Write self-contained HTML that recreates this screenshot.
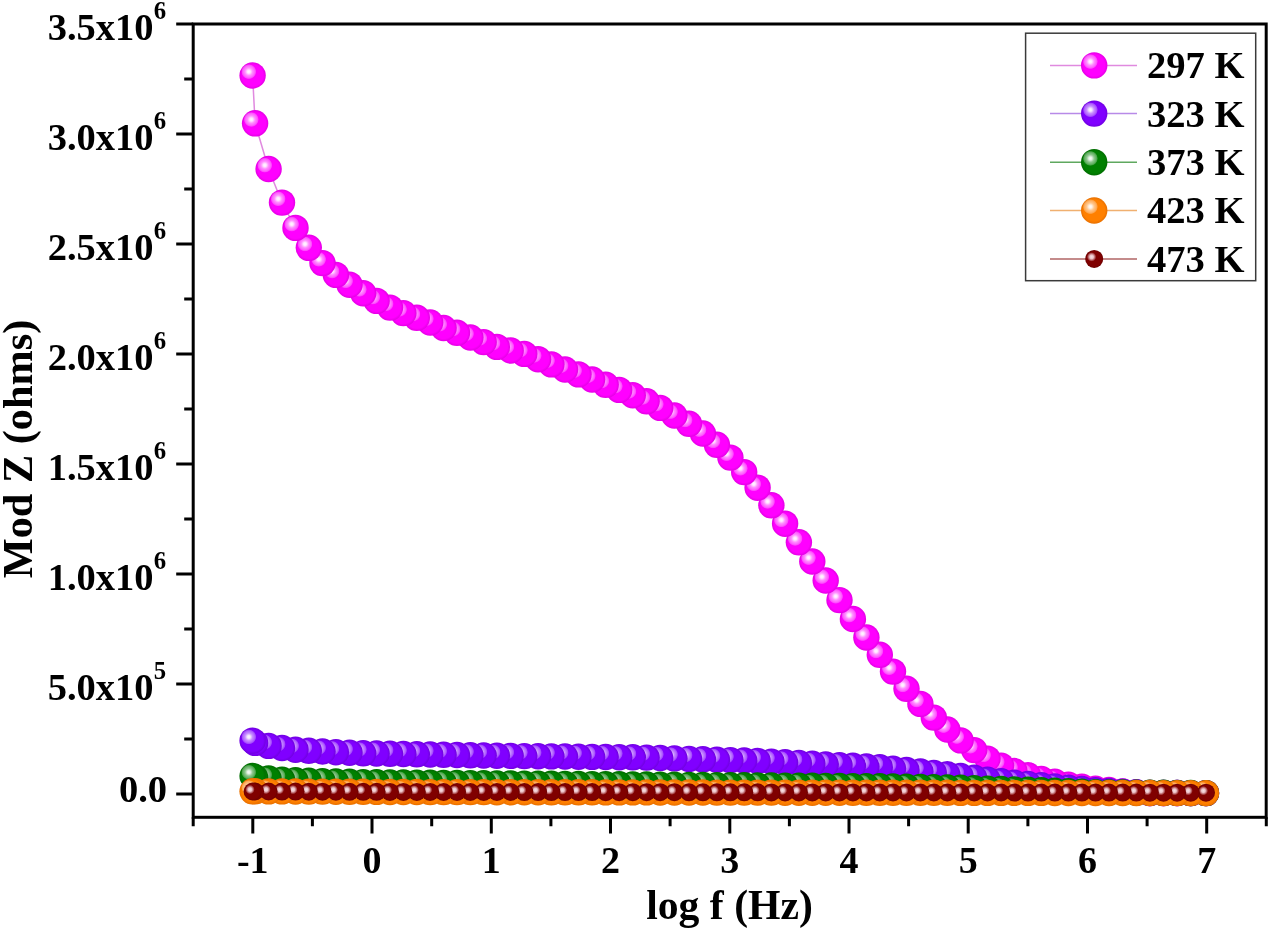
<!DOCTYPE html>
<html><head><meta charset="utf-8"><title>Mod Z vs log f</title>
<style>html,body{margin:0;padding:0;background:#fff}body{width:1269px;height:930px;overflow:hidden}</style></head>
<body>
<svg width="1269" height="930" viewBox="0 0 1269 930" style="display:block;font-family:'Liberation Serif',serif;font-weight:bold">
<defs>
<radialGradient id="hl" cx="0.5" cy="0.5" r="0.5"><stop offset="0" stop-color="#fff" stop-opacity="0.97"/><stop offset="0.2" stop-color="#fff" stop-opacity="0.9"/><stop offset="0.5" stop-color="#fff" stop-opacity="0.55"/><stop offset="0.75" stop-color="#fff" stop-opacity="0.4"/><stop offset="0.88" stop-color="#fff" stop-opacity="0.28"/><stop offset="1" stop-color="#fff" stop-opacity="0"/></radialGradient>
<radialGradient id="hls" cx="0.5" cy="0.5" r="0.5"><stop offset="0" stop-color="#fff0f3" stop-opacity="0.95"/><stop offset="0.4" stop-color="#ffe6ec" stop-opacity="0.85"/><stop offset="0.7" stop-color="#ffe0e8" stop-opacity="0.45"/><stop offset="1" stop-color="#ffe0e8" stop-opacity="0"/></radialGradient>
<radialGradient id="gm" cx="0.5" cy="0.5" r="0.5"><stop offset="0.8" stop-color="#FF00FF"/><stop offset="1" stop-color="#E400E4"/></radialGradient>
<g id="bm"><circle r="13.2" fill="url(#gm)"/><circle cx="-3.80" cy="-3.80" r="7.60" fill="url(#hl)"/></g>
<radialGradient id="gp" cx="0.5" cy="0.5" r="0.5"><stop offset="0.8" stop-color="#8000FF"/><stop offset="1" stop-color="#7000E0"/></radialGradient>
<g id="bp"><circle r="13.2" fill="url(#gp)"/><circle cx="-3.80" cy="-3.80" r="7.60" fill="url(#hl)"/></g>
<radialGradient id="gg" cx="0.5" cy="0.5" r="0.5"><stop offset="0.8" stop-color="#008000"/><stop offset="1" stop-color="#006C00"/></radialGradient>
<g id="bg"><circle r="13.2" fill="url(#gg)"/><circle cx="-3.80" cy="-3.80" r="7.60" fill="url(#hl)"/></g>
<radialGradient id="go" cx="0.5" cy="0.5" r="0.5"><stop offset="0.8" stop-color="#FF8000"/><stop offset="1" stop-color="#E87000"/></radialGradient>
<g id="bo"><circle r="13.2" fill="url(#go)"/><circle cx="-3.80" cy="-3.80" r="7.60" fill="url(#hl)"/></g>
<radialGradient id="gr" cx="0.5" cy="0.5" r="0.5"><stop offset="0.8" stop-color="#800000"/><stop offset="1" stop-color="#6C0000"/></radialGradient>
<g id="br"><circle r="9.0" fill="url(#gr)"/><circle cx="-2.59" cy="-2.00" r="4.70" fill="url(#hls)"/></g>
</defs>
<rect width="1269" height="930" fill="#fff"/>
<path d="M252.6 75.5 L255.1 123.3 L268.6 169.0 L282.0 202.6 L295.5 227.9 L308.8 247.8 L322.5 263.1 L335.9 274.9 L349.5 284.7 L363.2 293.2 L376.6 300.9 L390.0 307.6 L403.4 313.1 L416.8 317.8 L430.2 322.5 L443.6 328.0 L457.0 332.8 L470.4 337.5 L483.7 342.1 L496.9 346.9 L510.7 350.5 L524.3 353.9 L538.1 359.2 L551.4 364.4 L565.0 369.5 L578.5 374.4 L592.1 379.5 L605.7 384.8 L619.2 389.9 L632.8 395.2 L646.6 401.3 L660.2 407.9 L674.4 415.5 L689.0 423.8 L702.9 433.5 L716.9 444.8 L730.4 457.6 L744.2 472.1 L757.6 487.7 L771.4 505.3 L785.1 523.7 L798.9 542.3 L812.3 561.5 L825.7 580.5 L839.5 600.1 L852.9 619.0 L866.4 637.5 L879.8 654.8 L893.0 671.6 L906.5 688.8 L920.4 703.9 L933.8 717.6 L947.3 729.5 L960.6 740.4 L974.2 750.1 L987.5 758.7 L1001.1 765.6 L1014.4 771.0 L1028.0 775.3 L1041.3 778.9 L1054.8 781.7 L1068.4 784.6 L1081.9 786.7 L1095.5 788.7 L1109.0 790.0 L1122.7 791.4 L1136.3 792.4 L1149.9 793.0 L1163.5 793.0 L1177.1 793.0 L1190.7 793.1 L1206.0 793.1" fill="none" stroke="#E08ADF" stroke-width="1.5"/>
<g><use href="#bm" x="1206.0" y="793.1"/><use href="#bm" x="1190.7" y="793.1"/><use href="#bm" x="1177.1" y="793.0"/><use href="#bm" x="1163.5" y="793.0"/><use href="#bm" x="1149.9" y="793.0"/><use href="#bm" x="1136.3" y="792.4"/><use href="#bm" x="1122.7" y="791.4"/><use href="#bm" x="1109.0" y="790.0"/><use href="#bm" x="1095.5" y="788.7"/><use href="#bm" x="1081.9" y="786.7"/><use href="#bm" x="1068.4" y="784.6"/><use href="#bm" x="1054.8" y="781.7"/><use href="#bm" x="1041.3" y="778.9"/><use href="#bm" x="1028.0" y="775.3"/><use href="#bm" x="1014.4" y="771.0"/><use href="#bm" x="1001.1" y="765.6"/><use href="#bm" x="987.5" y="758.7"/><use href="#bm" x="974.2" y="750.1"/><use href="#bm" x="960.6" y="740.4"/><use href="#bm" x="947.3" y="729.5"/><use href="#bm" x="933.8" y="717.6"/><use href="#bm" x="920.4" y="703.9"/><use href="#bm" x="906.5" y="688.8"/><use href="#bm" x="893.0" y="671.6"/><use href="#bm" x="879.8" y="654.8"/><use href="#bm" x="866.4" y="637.5"/><use href="#bm" x="852.9" y="619.0"/><use href="#bm" x="839.5" y="600.1"/><use href="#bm" x="825.7" y="580.5"/><use href="#bm" x="812.3" y="561.5"/><use href="#bm" x="798.9" y="542.3"/><use href="#bm" x="785.1" y="523.7"/><use href="#bm" x="771.4" y="505.3"/><use href="#bm" x="757.6" y="487.7"/><use href="#bm" x="744.2" y="472.1"/><use href="#bm" x="730.4" y="457.6"/><use href="#bm" x="716.9" y="444.8"/><use href="#bm" x="702.9" y="433.5"/><use href="#bm" x="689.0" y="423.8"/><use href="#bm" x="674.4" y="415.5"/><use href="#bm" x="660.2" y="407.9"/><use href="#bm" x="646.6" y="401.3"/><use href="#bm" x="632.8" y="395.2"/><use href="#bm" x="619.2" y="389.9"/><use href="#bm" x="605.7" y="384.8"/><use href="#bm" x="592.1" y="379.5"/><use href="#bm" x="578.5" y="374.4"/><use href="#bm" x="565.0" y="369.5"/><use href="#bm" x="551.4" y="364.4"/><use href="#bm" x="538.1" y="359.2"/><use href="#bm" x="524.3" y="353.9"/><use href="#bm" x="510.7" y="350.5"/><use href="#bm" x="496.9" y="346.9"/><use href="#bm" x="483.7" y="342.1"/><use href="#bm" x="470.4" y="337.5"/><use href="#bm" x="457.0" y="332.8"/><use href="#bm" x="443.6" y="328.0"/><use href="#bm" x="430.2" y="322.5"/><use href="#bm" x="416.8" y="317.8"/><use href="#bm" x="403.4" y="313.1"/><use href="#bm" x="390.0" y="307.6"/><use href="#bm" x="376.6" y="300.9"/><use href="#bm" x="363.2" y="293.2"/><use href="#bm" x="349.5" y="284.7"/><use href="#bm" x="335.9" y="274.9"/><use href="#bm" x="322.5" y="263.1"/><use href="#bm" x="308.8" y="247.8"/><use href="#bm" x="295.5" y="227.9"/><use href="#bm" x="282.0" y="202.6"/><use href="#bm" x="268.6" y="169.0"/><use href="#bm" x="255.1" y="123.3"/><use href="#bm" x="252.6" y="75.5"/></g>
<path d="M252.6 740.7 L255.1 742.9 L268.6 745.9 L282.0 748.0 L295.5 749.7 L308.8 750.8 L322.5 751.5 L335.9 752.2 L349.5 752.7 L363.2 753.3 L376.6 753.5 L390.0 753.8 L403.4 754.0 L416.8 754.3 L430.2 754.5 L443.6 754.8 L457.0 755.0 L470.4 755.3 L483.7 755.5 L496.9 755.7 L510.7 755.9 L524.3 756.1 L538.1 756.2 L551.4 756.4 L565.0 756.5 L578.5 756.7 L592.1 756.9 L605.7 757.0 L619.2 757.2 L632.8 757.3 L646.6 757.6 L660.2 758.0 L674.4 758.4 L689.0 758.9 L702.9 759.3 L716.9 759.7 L730.4 760.1 L744.2 760.5 L757.6 760.9 L771.4 761.6 L785.1 762.3 L798.9 763.0 L812.3 763.7 L825.7 764.4 L839.5 765.1 L852.9 765.8 L866.4 766.5 L879.8 767.2 L893.0 768.6 L906.5 770.0 L920.4 771.5 L933.8 772.9 L947.3 774.3 L960.6 776.0 L974.2 777.8 L987.5 779.6 L1001.1 781.3 L1014.4 782.6 L1028.0 783.9 L1041.3 785.2 L1054.8 786.4 L1068.4 787.7 L1081.9 788.9 L1095.5 790.1 L1109.0 791.0 L1122.7 791.6 L1136.3 792.3 L1149.9 793.0 L1163.5 793.0 L1177.1 793.0 L1190.7 793.1 L1206.0 793.1" fill="none" stroke="#B88AE8" stroke-width="1.5"/>
<g><use href="#bp" x="1206.0" y="793.1"/><use href="#bp" x="1190.7" y="793.1"/><use href="#bp" x="1177.1" y="793.0"/><use href="#bp" x="1163.5" y="793.0"/><use href="#bp" x="1149.9" y="793.0"/><use href="#bp" x="1136.3" y="792.3"/><use href="#bp" x="1122.7" y="791.6"/><use href="#bp" x="1109.0" y="791.0"/><use href="#bp" x="1095.5" y="790.1"/><use href="#bp" x="1081.9" y="788.9"/><use href="#bp" x="1068.4" y="787.7"/><use href="#bp" x="1054.8" y="786.4"/><use href="#bp" x="1041.3" y="785.2"/><use href="#bp" x="1028.0" y="783.9"/><use href="#bp" x="1014.4" y="782.6"/><use href="#bp" x="1001.1" y="781.3"/><use href="#bp" x="987.5" y="779.6"/><use href="#bp" x="974.2" y="777.8"/><use href="#bp" x="960.6" y="776.0"/><use href="#bp" x="947.3" y="774.3"/><use href="#bp" x="933.8" y="772.9"/><use href="#bp" x="920.4" y="771.5"/><use href="#bp" x="906.5" y="770.0"/><use href="#bp" x="893.0" y="768.6"/><use href="#bp" x="879.8" y="767.2"/><use href="#bp" x="866.4" y="766.5"/><use href="#bp" x="852.9" y="765.8"/><use href="#bp" x="839.5" y="765.1"/><use href="#bp" x="825.7" y="764.4"/><use href="#bp" x="812.3" y="763.7"/><use href="#bp" x="798.9" y="763.0"/><use href="#bp" x="785.1" y="762.3"/><use href="#bp" x="771.4" y="761.6"/><use href="#bp" x="757.6" y="760.9"/><use href="#bp" x="744.2" y="760.5"/><use href="#bp" x="730.4" y="760.1"/><use href="#bp" x="716.9" y="759.7"/><use href="#bp" x="702.9" y="759.3"/><use href="#bp" x="689.0" y="758.9"/><use href="#bp" x="674.4" y="758.4"/><use href="#bp" x="660.2" y="758.0"/><use href="#bp" x="646.6" y="757.6"/><use href="#bp" x="632.8" y="757.3"/><use href="#bp" x="619.2" y="757.2"/><use href="#bp" x="605.7" y="757.0"/><use href="#bp" x="592.1" y="756.9"/><use href="#bp" x="578.5" y="756.7"/><use href="#bp" x="565.0" y="756.5"/><use href="#bp" x="551.4" y="756.4"/><use href="#bp" x="538.1" y="756.2"/><use href="#bp" x="524.3" y="756.1"/><use href="#bp" x="510.7" y="755.9"/><use href="#bp" x="496.9" y="755.7"/><use href="#bp" x="483.7" y="755.5"/><use href="#bp" x="470.4" y="755.3"/><use href="#bp" x="457.0" y="755.0"/><use href="#bp" x="443.6" y="754.8"/><use href="#bp" x="430.2" y="754.5"/><use href="#bp" x="416.8" y="754.3"/><use href="#bp" x="403.4" y="754.0"/><use href="#bp" x="390.0" y="753.8"/><use href="#bp" x="376.6" y="753.5"/><use href="#bp" x="363.2" y="753.3"/><use href="#bp" x="349.5" y="752.7"/><use href="#bp" x="335.9" y="752.2"/><use href="#bp" x="322.5" y="751.5"/><use href="#bp" x="308.8" y="750.8"/><use href="#bp" x="295.5" y="749.7"/><use href="#bp" x="282.0" y="748.0"/><use href="#bp" x="268.6" y="745.9"/><use href="#bp" x="255.1" y="742.9"/><use href="#bp" x="252.6" y="740.7"/></g>
<path d="M252.6 776.0 L255.1 777.3 L268.6 778.5 L282.0 779.6 L295.5 780.3 L308.8 780.8 L322.5 781.1 L335.9 781.5 L349.5 781.8 L363.2 782.2 L376.6 782.3 L390.0 782.4 L403.4 782.5 L416.8 782.7 L430.2 782.8 L443.6 782.9 L457.0 783.0 L470.4 783.1 L483.7 783.3 L496.9 783.4 L510.7 783.5 L524.3 783.6 L538.1 783.7 L551.4 783.8 L565.0 783.9 L578.5 784.0 L592.1 784.1 L605.7 784.2 L619.2 784.3 L632.8 784.4 L646.6 784.5 L660.2 784.7 L674.4 784.8 L689.0 784.9 L702.9 785.0 L716.9 785.1 L730.4 785.2 L744.2 785.3 L757.6 785.4 L771.4 785.5 L785.1 785.6 L798.9 785.7 L812.3 785.8 L825.7 785.9 L839.5 786.0 L852.9 786.1 L866.4 786.2 L879.8 786.3 L893.0 786.5 L906.5 786.7 L920.4 786.9 L933.8 787.1 L947.3 787.4 L960.6 787.7 L974.2 788.2 L987.5 788.6 L1001.1 789.0 L1014.4 789.4 L1028.0 789.8 L1041.3 790.2 L1054.8 790.7 L1068.4 791.2 L1081.9 791.6 L1095.5 792.1 L1109.0 792.4 L1122.7 792.5 L1136.3 792.6 L1149.9 792.7 L1163.5 792.8 L1177.1 792.9 L1190.7 793.0 L1206.0 793.1" fill="none" stroke="#5FA85F" stroke-width="1.5"/>
<g><use href="#bg" x="1206.0" y="793.1"/><use href="#bg" x="1190.7" y="793.0"/><use href="#bg" x="1177.1" y="792.9"/><use href="#bg" x="1163.5" y="792.8"/><use href="#bg" x="1149.9" y="792.7"/><use href="#bg" x="1136.3" y="792.6"/><use href="#bg" x="1122.7" y="792.5"/><use href="#bg" x="1109.0" y="792.4"/><use href="#bg" x="1095.5" y="792.1"/><use href="#bg" x="1081.9" y="791.6"/><use href="#bg" x="1068.4" y="791.2"/><use href="#bg" x="1054.8" y="790.7"/><use href="#bg" x="1041.3" y="790.2"/><use href="#bg" x="1028.0" y="789.8"/><use href="#bg" x="1014.4" y="789.4"/><use href="#bg" x="1001.1" y="789.0"/><use href="#bg" x="987.5" y="788.6"/><use href="#bg" x="974.2" y="788.2"/><use href="#bg" x="960.6" y="787.7"/><use href="#bg" x="947.3" y="787.4"/><use href="#bg" x="933.8" y="787.1"/><use href="#bg" x="920.4" y="786.9"/><use href="#bg" x="906.5" y="786.7"/><use href="#bg" x="893.0" y="786.5"/><use href="#bg" x="879.8" y="786.3"/><use href="#bg" x="866.4" y="786.2"/><use href="#bg" x="852.9" y="786.1"/><use href="#bg" x="839.5" y="786.0"/><use href="#bg" x="825.7" y="785.9"/><use href="#bg" x="812.3" y="785.8"/><use href="#bg" x="798.9" y="785.7"/><use href="#bg" x="785.1" y="785.6"/><use href="#bg" x="771.4" y="785.5"/><use href="#bg" x="757.6" y="785.4"/><use href="#bg" x="744.2" y="785.3"/><use href="#bg" x="730.4" y="785.2"/><use href="#bg" x="716.9" y="785.1"/><use href="#bg" x="702.9" y="785.0"/><use href="#bg" x="689.0" y="784.9"/><use href="#bg" x="674.4" y="784.8"/><use href="#bg" x="660.2" y="784.7"/><use href="#bg" x="646.6" y="784.5"/><use href="#bg" x="632.8" y="784.4"/><use href="#bg" x="619.2" y="784.3"/><use href="#bg" x="605.7" y="784.2"/><use href="#bg" x="592.1" y="784.1"/><use href="#bg" x="578.5" y="784.0"/><use href="#bg" x="565.0" y="783.9"/><use href="#bg" x="551.4" y="783.8"/><use href="#bg" x="538.1" y="783.7"/><use href="#bg" x="524.3" y="783.6"/><use href="#bg" x="510.7" y="783.5"/><use href="#bg" x="496.9" y="783.4"/><use href="#bg" x="483.7" y="783.3"/><use href="#bg" x="470.4" y="783.1"/><use href="#bg" x="457.0" y="783.0"/><use href="#bg" x="443.6" y="782.9"/><use href="#bg" x="430.2" y="782.8"/><use href="#bg" x="416.8" y="782.7"/><use href="#bg" x="403.4" y="782.5"/><use href="#bg" x="390.0" y="782.4"/><use href="#bg" x="376.6" y="782.3"/><use href="#bg" x="363.2" y="782.2"/><use href="#bg" x="349.5" y="781.8"/><use href="#bg" x="335.9" y="781.5"/><use href="#bg" x="322.5" y="781.1"/><use href="#bg" x="308.8" y="780.8"/><use href="#bg" x="295.5" y="780.3"/><use href="#bg" x="282.0" y="779.6"/><use href="#bg" x="268.6" y="778.5"/><use href="#bg" x="255.1" y="777.3"/><use href="#bg" x="252.6" y="776.0"/></g>
<path d="M252.6 791.3 L255.1 791.3 L268.6 791.4 L282.0 791.4 L295.5 791.5 L308.8 791.6 L322.5 791.6 L335.9 791.7 L349.5 791.8 L363.2 791.8 L376.6 791.9 L390.0 792.0 L403.4 792.0 L416.8 792.0 L430.2 792.1 L443.6 792.1 L457.0 792.1 L470.4 792.1 L483.7 792.1 L496.9 792.2 L510.7 792.2 L524.3 792.2 L538.1 792.2 L551.4 792.3 L565.0 792.3 L578.5 792.3 L592.1 792.3 L605.7 792.4 L619.2 792.4 L632.8 792.4 L646.6 792.4 L660.2 792.5 L674.4 792.5 L689.0 792.5 L702.9 792.5 L716.9 792.6 L730.4 792.6 L744.2 792.6 L757.6 792.6 L771.4 792.6 L785.1 792.7 L798.9 792.7 L812.3 792.7 L825.7 792.7 L839.5 792.7 L852.9 792.8 L866.4 792.8 L879.8 792.8 L893.0 792.8 L906.5 792.8 L920.4 792.8 L933.8 792.8 L947.3 792.8 L960.6 792.9 L974.2 792.9 L987.5 792.9 L1001.1 792.9 L1014.4 792.9 L1028.0 792.9 L1041.3 792.9 L1054.8 793.0 L1068.4 793.0 L1081.9 793.0 L1095.5 793.0 L1109.0 793.0 L1122.7 793.0 L1136.3 793.0 L1149.9 793.0 L1163.5 793.1 L1177.1 793.1 L1190.7 793.1 L1206.0 793.1" fill="none" stroke="#F0B070" stroke-width="1.5"/>
<g><use href="#bo" x="1206.0" y="793.1"/><use href="#bo" x="1190.7" y="793.1"/><use href="#bo" x="1177.1" y="793.1"/><use href="#bo" x="1163.5" y="793.1"/><use href="#bo" x="1149.9" y="793.0"/><use href="#bo" x="1136.3" y="793.0"/><use href="#bo" x="1122.7" y="793.0"/><use href="#bo" x="1109.0" y="793.0"/><use href="#bo" x="1095.5" y="793.0"/><use href="#bo" x="1081.9" y="793.0"/><use href="#bo" x="1068.4" y="793.0"/><use href="#bo" x="1054.8" y="793.0"/><use href="#bo" x="1041.3" y="792.9"/><use href="#bo" x="1028.0" y="792.9"/><use href="#bo" x="1014.4" y="792.9"/><use href="#bo" x="1001.1" y="792.9"/><use href="#bo" x="987.5" y="792.9"/><use href="#bo" x="974.2" y="792.9"/><use href="#bo" x="960.6" y="792.9"/><use href="#bo" x="947.3" y="792.8"/><use href="#bo" x="933.8" y="792.8"/><use href="#bo" x="920.4" y="792.8"/><use href="#bo" x="906.5" y="792.8"/><use href="#bo" x="893.0" y="792.8"/><use href="#bo" x="879.8" y="792.8"/><use href="#bo" x="866.4" y="792.8"/><use href="#bo" x="852.9" y="792.8"/><use href="#bo" x="839.5" y="792.7"/><use href="#bo" x="825.7" y="792.7"/><use href="#bo" x="812.3" y="792.7"/><use href="#bo" x="798.9" y="792.7"/><use href="#bo" x="785.1" y="792.7"/><use href="#bo" x="771.4" y="792.6"/><use href="#bo" x="757.6" y="792.6"/><use href="#bo" x="744.2" y="792.6"/><use href="#bo" x="730.4" y="792.6"/><use href="#bo" x="716.9" y="792.6"/><use href="#bo" x="702.9" y="792.5"/><use href="#bo" x="689.0" y="792.5"/><use href="#bo" x="674.4" y="792.5"/><use href="#bo" x="660.2" y="792.5"/><use href="#bo" x="646.6" y="792.4"/><use href="#bo" x="632.8" y="792.4"/><use href="#bo" x="619.2" y="792.4"/><use href="#bo" x="605.7" y="792.4"/><use href="#bo" x="592.1" y="792.3"/><use href="#bo" x="578.5" y="792.3"/><use href="#bo" x="565.0" y="792.3"/><use href="#bo" x="551.4" y="792.3"/><use href="#bo" x="538.1" y="792.2"/><use href="#bo" x="524.3" y="792.2"/><use href="#bo" x="510.7" y="792.2"/><use href="#bo" x="496.9" y="792.2"/><use href="#bo" x="483.7" y="792.1"/><use href="#bo" x="470.4" y="792.1"/><use href="#bo" x="457.0" y="792.1"/><use href="#bo" x="443.6" y="792.1"/><use href="#bo" x="430.2" y="792.1"/><use href="#bo" x="416.8" y="792.0"/><use href="#bo" x="403.4" y="792.0"/><use href="#bo" x="390.0" y="792.0"/><use href="#bo" x="376.6" y="791.9"/><use href="#bo" x="363.2" y="791.8"/><use href="#bo" x="349.5" y="791.8"/><use href="#bo" x="335.9" y="791.7"/><use href="#bo" x="322.5" y="791.6"/><use href="#bo" x="308.8" y="791.6"/><use href="#bo" x="295.5" y="791.5"/><use href="#bo" x="282.0" y="791.4"/><use href="#bo" x="268.6" y="791.4"/><use href="#bo" x="255.1" y="791.3"/><use href="#bo" x="252.6" y="791.3"/></g>
<path d="M252.6 791.5 L255.1 791.5 L268.6 791.5 L282.0 791.6 L295.5 791.6 L308.8 791.7 L322.5 791.7 L335.9 791.7 L349.5 791.8 L363.2 791.8 L376.6 791.8 L390.0 791.9 L403.4 791.9 L416.8 791.9 L430.2 791.9 L443.6 792.0 L457.0 792.0 L470.4 792.0 L483.7 792.0 L496.9 792.0 L510.7 792.0 L524.3 792.1 L538.1 792.1 L551.4 792.1 L565.0 792.1 L578.5 792.1 L592.1 792.1 L605.7 792.2 L619.2 792.2 L632.8 792.2 L646.6 792.2 L660.2 792.2 L674.4 792.2 L689.0 792.3 L702.9 792.3 L716.9 792.3 L730.4 792.3 L744.2 792.3 L757.6 792.3 L771.4 792.4 L785.1 792.4 L798.9 792.4 L812.3 792.4 L825.7 792.4 L839.5 792.4 L852.9 792.4 L866.4 792.4 L879.8 792.5 L893.0 792.5 L906.5 792.5 L920.4 792.5 L933.8 792.5 L947.3 792.5 L960.6 792.5 L974.2 792.5 L987.5 792.5 L1001.1 792.5 L1014.4 792.6 L1028.0 792.6 L1041.3 792.6 L1054.8 792.6 L1068.4 792.6 L1081.9 792.6 L1095.5 792.6 L1109.0 792.6 L1122.7 792.6 L1136.3 792.6 L1149.9 792.7 L1163.5 792.7 L1177.1 792.7 L1190.7 792.7 L1206.0 792.7" fill="none" stroke="#B06464" stroke-width="1.5"/>
<g><use href="#br" x="1206.0" y="792.7"/><use href="#br" x="1190.7" y="792.7"/><use href="#br" x="1177.1" y="792.7"/><use href="#br" x="1163.5" y="792.7"/><use href="#br" x="1149.9" y="792.7"/><use href="#br" x="1136.3" y="792.6"/><use href="#br" x="1122.7" y="792.6"/><use href="#br" x="1109.0" y="792.6"/><use href="#br" x="1095.5" y="792.6"/><use href="#br" x="1081.9" y="792.6"/><use href="#br" x="1068.4" y="792.6"/><use href="#br" x="1054.8" y="792.6"/><use href="#br" x="1041.3" y="792.6"/><use href="#br" x="1028.0" y="792.6"/><use href="#br" x="1014.4" y="792.6"/><use href="#br" x="1001.1" y="792.5"/><use href="#br" x="987.5" y="792.5"/><use href="#br" x="974.2" y="792.5"/><use href="#br" x="960.6" y="792.5"/><use href="#br" x="947.3" y="792.5"/><use href="#br" x="933.8" y="792.5"/><use href="#br" x="920.4" y="792.5"/><use href="#br" x="906.5" y="792.5"/><use href="#br" x="893.0" y="792.5"/><use href="#br" x="879.8" y="792.5"/><use href="#br" x="866.4" y="792.4"/><use href="#br" x="852.9" y="792.4"/><use href="#br" x="839.5" y="792.4"/><use href="#br" x="825.7" y="792.4"/><use href="#br" x="812.3" y="792.4"/><use href="#br" x="798.9" y="792.4"/><use href="#br" x="785.1" y="792.4"/><use href="#br" x="771.4" y="792.4"/><use href="#br" x="757.6" y="792.3"/><use href="#br" x="744.2" y="792.3"/><use href="#br" x="730.4" y="792.3"/><use href="#br" x="716.9" y="792.3"/><use href="#br" x="702.9" y="792.3"/><use href="#br" x="689.0" y="792.3"/><use href="#br" x="674.4" y="792.2"/><use href="#br" x="660.2" y="792.2"/><use href="#br" x="646.6" y="792.2"/><use href="#br" x="632.8" y="792.2"/><use href="#br" x="619.2" y="792.2"/><use href="#br" x="605.7" y="792.2"/><use href="#br" x="592.1" y="792.1"/><use href="#br" x="578.5" y="792.1"/><use href="#br" x="565.0" y="792.1"/><use href="#br" x="551.4" y="792.1"/><use href="#br" x="538.1" y="792.1"/><use href="#br" x="524.3" y="792.1"/><use href="#br" x="510.7" y="792.0"/><use href="#br" x="496.9" y="792.0"/><use href="#br" x="483.7" y="792.0"/><use href="#br" x="470.4" y="792.0"/><use href="#br" x="457.0" y="792.0"/><use href="#br" x="443.6" y="792.0"/><use href="#br" x="430.2" y="791.9"/><use href="#br" x="416.8" y="791.9"/><use href="#br" x="403.4" y="791.9"/><use href="#br" x="390.0" y="791.9"/><use href="#br" x="376.6" y="791.8"/><use href="#br" x="363.2" y="791.8"/><use href="#br" x="349.5" y="791.8"/><use href="#br" x="335.9" y="791.7"/><use href="#br" x="322.5" y="791.7"/><use href="#br" x="308.8" y="791.7"/><use href="#br" x="295.5" y="791.6"/><use href="#br" x="282.0" y="791.6"/><use href="#br" x="268.6" y="791.5"/><use href="#br" x="255.1" y="791.5"/><use href="#br" x="252.6" y="791.5"/></g>
<rect x="193.2" y="24.0" width="1073.0" height="793.3" fill="none" stroke="#000" stroke-width="3"/>
<path d="M176.2 794.0H193.2 M184.2 739.0H193.2 M176.2 684.0H193.2 M184.2 629.0H193.2 M176.2 574.0H193.2 M184.2 519.0H193.2 M176.2 464.0H193.2 M184.2 409.0H193.2 M176.2 354.0H193.2 M184.2 299.0H193.2 M176.2 244.0H193.2 M184.2 189.0H193.2 M176.2 134.0H193.2 M184.2 79.0H193.2 M176.2 24.0H193.2 M252.8 817.3V833.5999999999999 M372.0 817.3V833.5999999999999 M491.3 817.3V833.5999999999999 M610.5 817.3V833.5999999999999 M729.8 817.3V833.5999999999999 M849.0 817.3V833.5999999999999 M968.2 817.3V833.5999999999999 M1087.5 817.3V833.5999999999999 M1206.7 817.3V833.5999999999999 M193.2 817.3V826.3 M312.4 817.3V826.3 M431.7 817.3V826.3 M550.9 817.3V826.3 M670.1 817.3V826.3 M789.4 817.3V826.3 M908.6 817.3V826.3 M1027.9 817.3V826.3 M1147.1 817.3V826.3 M1266.3 817.3V826.3" stroke="#000" stroke-width="3" fill="none"/>
<text x="167" y="801.8" font-size="38.5" text-anchor="end">0.0</text>
<text x="153.5" y="699.8" font-size="38.5" text-anchor="end">5.0x10</text>
<text x="153.8" y="679.0" font-size="24.8" text-anchor="start">5</text>
<text x="153.5" y="589.8" font-size="38.5" text-anchor="end">1.0x10</text>
<text x="153.8" y="569.0" font-size="24.8" text-anchor="start">6</text>
<text x="153.5" y="479.8" font-size="38.5" text-anchor="end">1.5x10</text>
<text x="153.8" y="459.0" font-size="24.8" text-anchor="start">6</text>
<text x="153.5" y="369.8" font-size="38.5" text-anchor="end">2.0x10</text>
<text x="153.8" y="349.0" font-size="24.8" text-anchor="start">6</text>
<text x="153.5" y="259.8" font-size="38.5" text-anchor="end">2.5x10</text>
<text x="153.8" y="239.0" font-size="24.8" text-anchor="start">6</text>
<text x="153.5" y="149.8" font-size="38.5" text-anchor="end">3.0x10</text>
<text x="153.8" y="129.0" font-size="24.8" text-anchor="start">6</text>
<text x="153.5" y="39.8" font-size="38.5" text-anchor="end">3.5x10</text>
<text x="153.8" y="19.0" font-size="24.8" text-anchor="start">6</text>
<text x="252.8" y="873.3" font-size="38" text-anchor="middle">-1</text>
<text x="372.0" y="873.3" font-size="38" text-anchor="middle">0</text>
<text x="491.3" y="873.3" font-size="38" text-anchor="middle">1</text>
<text x="610.5" y="873.3" font-size="38" text-anchor="middle">2</text>
<text x="729.8" y="873.3" font-size="38" text-anchor="middle">3</text>
<text x="849.0" y="873.3" font-size="38" text-anchor="middle">4</text>
<text x="968.2" y="873.3" font-size="38" text-anchor="middle">5</text>
<text x="1087.5" y="873.3" font-size="38" text-anchor="middle">6</text>
<text x="1206.7" y="873.3" font-size="38" text-anchor="middle">7</text>
<text x="729.5" y="918.5" font-size="41.7" text-anchor="middle">log f (Hz)</text>
<text transform="translate(31.5 449) rotate(-90)" font-size="42.3" text-anchor="middle">Mod Z (ohms)</text>
<rect x="1025.6" y="33.2" width="230.1" height="247.5" fill="#fff" stroke="#3a3a3a" stroke-width="1.5"/>
<path d="M1050 65.4H1137" stroke="#E08ADF" stroke-width="1.5"/>
<use href="#bm" x="1094.2" y="65.4"/>
<text x="1147" y="78.3" font-size="38.6">297 K</text>
<path d="M1050 113.6H1137" stroke="#B88AE8" stroke-width="1.5"/>
<use href="#bp" x="1094.2" y="113.6"/>
<text x="1147" y="126.5" font-size="38.6">323 K</text>
<path d="M1050 162.2H1137" stroke="#5FA85F" stroke-width="1.5"/>
<use href="#bg" x="1094.2" y="162.2"/>
<text x="1147" y="175.1" font-size="38.6">373 K</text>
<path d="M1050 210.5H1137" stroke="#F0B070" stroke-width="1.5"/>
<use href="#bo" x="1094.2" y="210.5"/>
<text x="1147" y="223.4" font-size="38.6">423 K</text>
<path d="M1050 258.9H1137" stroke="#B06464" stroke-width="1.5"/>
<use href="#br" x="1094.2" y="258.9"/>
<text x="1147" y="271.8" font-size="38.6">473 K</text>
</svg>
</body></html>
